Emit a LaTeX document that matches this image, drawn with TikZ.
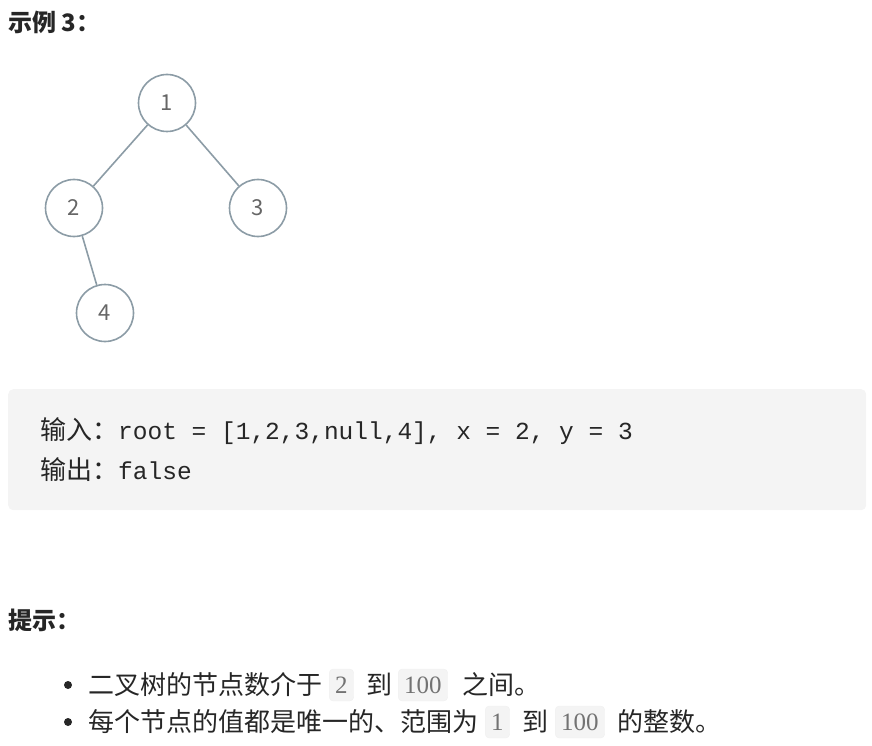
\documentclass[tikz,border=0pt]{standalone}
\usepackage{fontspec}
\setmainfont{Noto Sans CJK SC}
\setmonofont{Liberation Mono}
\newfontfamily\cjk{Noto Sans CJK SC}
\newfontfamily\numf{Liberation Serif}
\definecolor{edge}{HTML}{8C9CA6}
\definecolor{codebg}{HTML}{F4F4F4}
\definecolor{txt}{HTML}{262626}
\begin{document}
\begin{tikzpicture}[x=1pt,y=-1pt,
  tn/.style={circle,draw=edge,line width=1.6pt,minimum size=57pt,inner sep=0pt,fill=white,font=\fontsize{22}{26}\selectfont,text=black!60},
  tl/.style={draw=edge,line width=1.6pt},
  body/.style={anchor=west,inner sep=0pt,text=txt,font=\fontsize{26}{30}\selectfont},
  chip/.style={fill=codebg,rounded corners=4pt,draw=black!6,inner xsep=6pt,minimum height=32pt,anchor=west,font=\numf\fontsize{25}{28}\selectfont,text=black!55}]
\useasboundingbox (0,0) rectangle (872,746);
\node[body,font=\bfseries\fontsize{24}{28}\selectfont] (t1) at (8,22) {示例 3：};
\node[tn] (n1) at (167,103) {1};
\node[tn] (n2) at (74,208) {2};
\node[tn] (n3) at (258,208) {3};
\node[tn] (n4) at (105,313) {4};
\draw[tl] (n1) -- (n2);
\draw[tl] (n1) -- (n3);
\draw[tl] (n2) -- (n4);
\node[fill=codebg,rounded corners=5pt,minimum width=858pt,minimum height=121pt,anchor=north west,inner sep=0pt] (box) at (8,389) {};
\node[body] (in) at (40,431) {输入：\texttt{\fontsize{24.5}{28}\selectfont root = [1,2,3,null,4], x = 2, y = 3}};
\node[body] (out) at (40,470) {输出：\texttt{\fontsize{24.5}{28}\selectfont false}};
\node[body,font=\bfseries\fontsize{24}{28}\selectfont] (t2) at (8,620) {提示：};
\node[circle,fill=txt,minimum size=8pt,inner sep=0pt] (b1) at (68,685) {};
\node[circle,fill=txt,minimum size=8pt,inner sep=0pt] (b2) at (68,722) {};
\node[body] (l1a) at (88,685) {二叉树的节点数介于};
\node[chip] (c1) at (329,685) {2};
\node[body] (l1b) at (366,685) {到};
\node[chip] (c2) at (398,685) {100};
\node[body] (l1c) at (462,685) {之间。};
\node[body] (l2a) at (88,722) {每个节点的值都是唯一的、范围为};
\node[chip] (c3) at (485,722) {1};
\node[body] (l2b) at (522,722) {到};
\node[chip] (c4) at (555,722) {100};
\node[body] (l2c) at (617,722) {的整数。};
\end{tikzpicture}
\end{document}
